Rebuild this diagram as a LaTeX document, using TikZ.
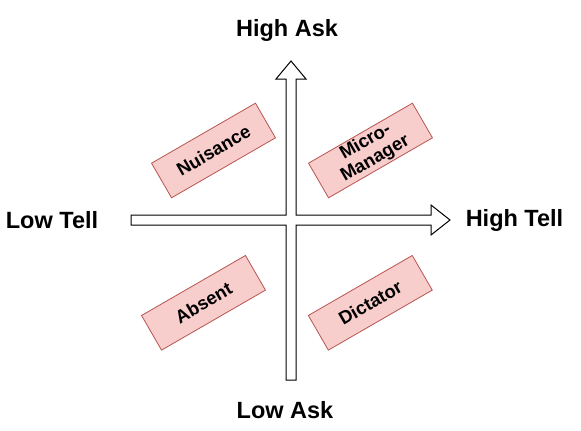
\documentclass[tikz,border=0pt]{standalone}
\usepackage{fontspec}
\setmainfont{Liberation Sans}
\definecolor{boxfill}{HTML}{F8CECC}
\definecolor{boxline}{HTML}{B85450}
\begin{document}
\begin{tikzpicture}[x=1pt,y=-1pt,
  quad/.style={draw=boxline,fill=boxfill,line width=0.8pt,minimum width=120pt,minimum height=40pt,
    inner sep=0pt,rotate=30,align=center,font=\bfseries\fontsize{18.4}{19.5}\selectfont},
  axislabel/.style={font=\bfseries\fontsize{23.5}{26}\selectfont,inner sep=0pt}]
\useasboundingbox (0,0) rectangle (581,431);
\draw[line width=1pt,fill=white,line join=miter]
  (131,215) -- (286,215) -- (286,79) -- (276,79) -- (291,61) -- (306,79) -- (296,79)
  -- (296,215) -- (431,215) -- (431,205) -- (450,220) -- (431,235) -- (431,225)
  -- (296,225) -- (296,380) -- (286,380) -- (286,225) -- (131,225) -- cycle;
\node[quad] (nuisance) at (213.5,150.5) {Nuisance};
\node[quad] (micro) at (370.5,150.5) {Micro-\\Manager};
\node[quad] (absent) at (203.5,302.8) {Absent};
\node[quad] (dictator) at (370.3,302.8) {Dictator};
\node[axislabel] (highask) at (287,30) {High Ask};
\node[axislabel] (lowask) at (285,410) {Low Ask};
\node[axislabel] (lowtell) at (52,220) {Low Tell};
\node[axislabel] (hightell) at (514.5,220) {High Tell};
\end{tikzpicture}
\end{document}
